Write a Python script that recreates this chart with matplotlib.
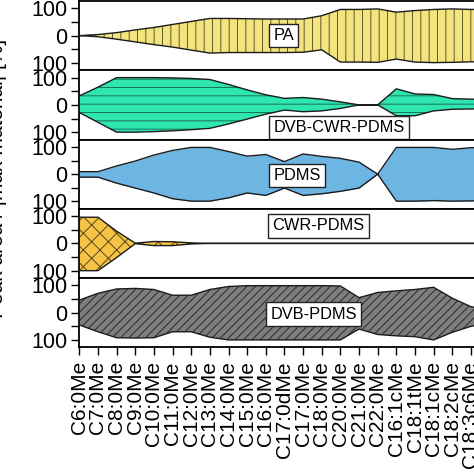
import numpy as np
import matplotlib
matplotlib.use('Agg')
import matplotlib.pyplot as plt

plt.rcParams['font.family'] = ['Liberation Sans', 'DejaVu Sans']
plt.rcParams['hatch.linewidth'] = 0.7

categories = ['C6:0Me', 'C7:0Me', 'C8:0Me', 'C9:0Me', 'C10:0Me', 'C11:0Me',
              'C12:0Me', 'C13:0Me', 'C14:0Me', 'C15:0Me', 'C16:0Me', 'C17:0dMe',
              'C17:0Me', 'C18:0Me', 'C20:0Me', 'C21:0Me', 'C22:0Me', 'C16:1cMe',
              'C18:1tMe', 'C18:1cMe', 'C18:2cMe', 'C18:3c6Me', 'C18:3c3Me']

materials = ['PA', 'DVB-CWR-PDMS', 'PDMS', 'CWR-PDMS', 'DVB-PDMS']

# upper half / lower half of each band, in % of max
pa_up = [0, 4, 11, 21, 30, 41, 52, 63, 63, 62, 61, 61, 61, 73, 96, 96, 98, 86, 92, 96, 98, 96, 97]
pa_low = [0, 4, 13, 23, 33, 42, 53, 64, 62, 62, 62, 62, 61, 52, 97, 97, 98, 86, 97, 99, 98, 96, 97]

dcp_up = [33, 65, 100, 100, 100, 99, 97, 93, 75, 55, 37, 24, 27, 21, 11, 0, 0, 59, 40, 38, 23, 21, 20]
dcp_low = [28, 64, 100, 100, 98, 95, 91, 86, 70, 52, 34, 19, 25, 22, 13, 0, 0, 40, 40, 22, 16, 15, 14]

pdms_up = [9, 9, 30, 48, 70, 87, 98, 98, 83, 66, 72, 46, 74, 65, 58, 44, 0, 98, 98, 98, 91, 97, 97]
pdms_low = [11, 11, 33, 51, 69, 90, 99, 99, 87, 69, 78, 51, 78, 72, 63, 51, 0, 99, 99, 97, 99, 98, 98]

cwr_up = [96, 96, 45, 1, 7, 6, 2, 0, 0, 0, 0, 0, 0, 0, 0, 0, 0, 0, 0, 0, 0, 0, 0]
cwr_low = [100, 100, 52, 1, 8, 8, 2, 0, 0, 0, 0, 0, 0, 0, 0, 0, 0, 0, 0, 0, 0, 0, 0]

dp_up = [46, 71, 87, 89, 85, 64, 64, 85, 96, 99, 99, 99, 99, 99, 98, 55, 74, 80, 85, 93, 53, 22, 10]
dp_low = [45, 70, 92, 93, 92, 70, 70, 90, 100, 100, 100, 100, 100, 100, 100, 60, 80, 85, 88, 100, 72, 50, 40]

face_colors = ['#F3E47E', '#2FE6B0', '#6DB5E2', '#F6C445', '#7E7E7E']
hatch_colors = ['#5e5a2a', '#1d6f5a', '#5f9fca', '#5a4420', '#2a2a2a']
hatches = ['||', '--', None, 'xx', '////']
# label box: x (category units), y (% units)
label_pos = [(10.4, 0), (10.4, -84), (10.4, -6), (10.35, 64), (10.25, -5)]


def draw_band(ax, up, low, fc, hc, hatch):
    x = np.arange(len(up))
    up = np.array(up)
    low = -np.array(low)
    ax.fill_between(x, low, up, facecolor=fc, edgecolor=hc if hatch else fc,
                    hatch=hatch, linewidth=0, zorder=2)
    ax.fill_between(x, low, up, facecolor='none', edgecolor='#1c1c1c',
                    linewidth=1.0, zorder=3)


fig = plt.figure(figsize=(4.74, 4.74), dpi=100)
left = 79.3 / 474
right = (79.3 + 22 * 18.65) / 474
top = 1 - 1.0 / 474
bottom = 1 - 347.3 / 474
h = (top - bottom) / 5

bands = [(pa_up, pa_low), (dcp_up, dcp_low), (pdms_up, pdms_low),
         (cwr_up, cwr_low), (dp_up, dp_low)]

for i in range(5):
    ax = fig.add_axes([left, top - (i + 1) * h, right - left, h])
    up, low = bands[i]
    draw_band(ax, up, low, face_colors[i], hatch_colors[i], hatches[i])
    ax.set_xlim(0, len(categories) - 1)
    ax.set_ylim(-127, 127)
    ax.set_yticks([-100, -50, 0, 50, 100])
    ax.set_yticklabels(['100', '', '0', '', '100'])
    ax.tick_params(axis='y', direction='out', length=5.5, width=1.0,
                   labelsize=15.5, pad=3)
    for s in ax.spines.values():
        s.set_linewidth(1.3)
    lx, ly = label_pos[i]
    ax.text(lx, ly, materials[i], fontsize=11.8, ha='left', va='center',
            zorder=6, clip_on=False,
            bbox=dict(boxstyle='square,pad=0.25', facecolor='white',
                      edgecolor='#222222', linewidth=1.0))
    if i < 4:
        ax.set_xticks([])
    else:
        ax.set_xticks(np.arange(len(categories)))
        ax.set_xticklabels(categories, rotation=90)
        ax.tick_params(axis='x', direction='out', length=6, width=1.0,
                       labelsize=15, pad=4)

fig.text(7 / 474, 1 - 178 / 474, 'Peak area / |max material| [%]',
         rotation=90, ha='right', va='center', fontsize=15)

fig.savefig('out.png', dpi=100)
